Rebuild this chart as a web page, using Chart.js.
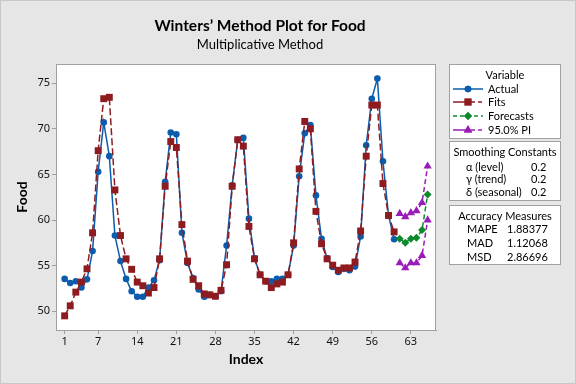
<!DOCTYPE html>
<html><head><meta charset="utf-8">
<script src="https://cdn.jsdelivr.net/npm/chart.js@4"></script>
<style>html,body{margin:0;padding:0;background:#E6E6E6;} canvas{display:block;}</style>
</head><body><canvas id="c" width="576" height="384"></canvas>
<script>
const indexTicks = [1, 7, 14, 21, 28, 35, 42, 49, 56, 63];
const foodTicks = [50, 55, 60, 65, 70, 75];
const actual = [53.55, 53.1, 53.3, 52.6, 53.5, 56.6, 65.3, 70.7, 67.0, 58.3,
  55.5, 53.55, 52.2, 51.6, 51.6, 52.6, 53.4, 55.6, 64.2, 69.6,
  69.4, 58.6, 55.3, 53.65, 52.4, 51.6, 51.8, 51.65, 52.2, 57.2,
  63.8, 68.8, 69.0, 60.15, 55.8, 54.0, 53.3, 53.3, 53.55, 53.55,
  54.0, 57.2, 64.8, 69.5, 70.4, 62.7, 57.95, 55.8, 54.85, 54.3,
  54.65, 54.5, 54.9, 58.2, 68.2, 73.3, 75.5, 66.45, 60.5, 57.9];
const fits = [49.5, 50.6, 52.1, 53.2, 54.65, 58.6, 67.6, 73.3, 73.45, 63.3,
  58.3, 55.75, 54.6, 53.2, 52.8, 52.0, 52.6, 55.75, 63.7, 68.6,
  67.95, 59.5, 55.5, 53.5, 52.8, 51.9, 51.8, 51.65, 52.3, 55.1,
  63.7, 68.8, 68.1, 59.3, 55.75, 54.0, 53.3, 52.6, 53.0, 53.2,
  54.0, 57.5, 65.6, 70.8, 70.0, 60.95, 57.4, 55.75, 55.05, 54.5,
  54.75, 54.75, 55.4, 58.8, 67.0, 72.6, 72.6, 64.0, 60.5, 58.7];
const forecastIndex = [61, 62, 63, 64, 65, 66];
const forecasts = [57.95, 57.5, 57.95, 58.05, 58.9, 62.8];
const upperPI = [60.7, 60.35, 60.8, 61.0, 61.9, 65.9];
const lowerPI = [55.3, 54.75, 55.3, 55.3, 56.1, 60.0];
const legendLabels = ['Actual', 'Fits', 'Forecasts', '95.0% PI'];
const smoothingNames = ['α (level)', 'γ (trend)', 'δ (seasonal)'];
const smoothingValues = ['0.2', '0.2', '0.2'];
const accuracyNames = ['MAPE', 'MAD', 'MSD'];
const accuracyValues = ['1.88377', '1.12068', '2.86696'];

const BLUE = '#0B5CAD', RED = '#8E1B1F', GREEN = '#0E8A2E', PURPLE = '#9A1CB8';
const FONT = 'Lato, "Noto Sans", sans-serif';
const TICKFONT = '"Noto Sans", "Open Sans", sans-serif';

const toXY = (xs, ys) => ys.map((v, i) => ({x: xs[i], y: v}));
const obsIndex = actual.map((_, i) => i + 1);

const styles = [
  {color: BLUE, dash: [], style: 'circle', r: 3.3},
  {color: RED, dash: [7, 3], style: 'rect', r: 4.9},
  {color: GREEN, dash: [5, 3], style: 'rectRot', r: 4},
  {color: PURPLE, dash: [5, 3], style: 'triangle', r: 4.8}
];

function ds(data, s, order) {
  return {data, borderColor: s.color, backgroundColor: s.color, borderWidth: 1.5,
    borderDash: s.dash, pointStyle: s.style, pointRadius: s.r, pointHoverRadius: s.r,
    pointBorderWidth: 0, showLine: true, tension: 0, order};
}

const decor = {
  id: 'decor',
  beforeDraw(chart) {
    const {ctx, chartArea: a} = chart;
    ctx.save();
    ctx.fillStyle = '#E6E6E6';
    ctx.fillRect(0, 0, 576, 384);
    ctx.strokeStyle = '#C8C8C8';
    ctx.lineWidth = 1;
    ctx.strokeRect(0.5, 0.5, 575, 383);
    ctx.fillStyle = '#FFFFFF';
    ctx.fillRect(a.left, a.top, a.right - a.left, a.bottom - a.top);
    ctx.restore();
  },
  afterDraw(chart) {
    const {ctx, chartArea: a} = chart;
    ctx.save();
    ctx.strokeStyle = '#A0A0A0';
    ctx.lineWidth = 1;
    ctx.setLineDash([]);
    ctx.strokeRect(Math.round(a.left) + 0.5, Math.round(a.top) + 0.5, Math.round(a.right - a.left) - 1, Math.round(a.bottom - a.top));
    // titles
    ctx.fillStyle = '#000';
    ctx.textAlign = 'center';
    ctx.textBaseline = 'middle';
    ctx.font = 'bold 15.5px ' + FONT;
    ctx.fillText('Winters’ Method Plot for Food', 260, 26);
    ctx.font = '13px ' + FONT;
    ctx.fillText('Multiplicative Method', 260, 45);
    ctx.font = 'bold 14px ' + FONT;
    ctx.fillText('Index', 246, 359);
    ctx.save();
    ctx.translate(22, 197);
    ctx.rotate(-Math.PI / 2);
    ctx.fillText('Food', 0, 0);
    ctx.restore();
    // boxes
    function box(x, y, w, h) {
      ctx.fillStyle = '#FFFFFF';
      ctx.fillRect(x, y, w, h);
      ctx.strokeStyle = '#A0A0A0';
      ctx.strokeRect(x + 0.5, y + 0.5, w - 1, h - 1);
    }
    box(449, 64, 112, 75);
    box(449, 141, 112, 60);
    box(449, 205, 112, 60);
    ctx.fillStyle = '#000';
    ctx.font = '11px ' + FONT;
    ctx.textAlign = 'center';
    ctx.fillText('Variable', 505, 75);
    ctx.fillText('Smoothing Constants', 505, 152);
    ctx.fillText('Accuracy Measures', 505, 216);
    const rows = [89, 102, 116, 130];
    legendLabels.forEach((lab, i) => {
      const s = styles[i], y = rows[i];
      ctx.strokeStyle = s.color;
      ctx.lineWidth = 1.5;
      if (i === 0) { ctx.setLineDash([]); ctx.beginPath(); ctx.moveTo(453, y); ctx.lineTo(483, y); ctx.stroke(); }
      else if (i === 2) { ctx.setLineDash([4, 3]); ctx.beginPath(); ctx.moveTo(453, y); ctx.lineTo(483, y); ctx.stroke(); }
      else {
        ctx.setLineDash([]); ctx.beginPath(); ctx.moveTo(453, y); ctx.lineTo(466, y); ctx.stroke();
        ctx.setLineDash([4, 3]); ctx.beginPath(); ctx.moveTo(471, y); ctx.lineTo(483, y); ctx.stroke();
      }
      ctx.setLineDash([]);
      ctx.fillStyle = s.color;
      Chart.helpers.drawPoint(ctx, {pointStyle: s.style, radius: s.r, rotation: 0, borderWidth: 0}, 468, y);
      ctx.fill();
      ctx.fillStyle = '#000';
      ctx.textAlign = 'left';
      ctx.fillText(lab, 488, y);
    });
    ctx.textAlign = 'left';
    smoothingNames.forEach((n, i) => {
      const y = 167 + i * 12.8;
      ctx.fillText(n, 466, y);
      ctx.fillText(smoothingValues[i], 531, y);
    });
    accuracyNames.forEach((n, i) => {
      const y = 229.5 + i * 13.8;
      ctx.fillText(n, 467, y);
      ctx.fillText(accuracyValues[i], 507, y);
    });
    ctx.restore();
  }
};

new Chart(document.getElementById('c'), {
  type: 'scatter',
  data: {
    datasets: [
      ds(toXY(obsIndex, actual), styles[0], 4),
      ds(toXY(obsIndex, fits), styles[1], 3),
      ds(toXY(forecastIndex, upperPI), styles[3], 2),
      ds(toXY(forecastIndex, lowerPI), styles[3], 2),
      ds(toXY(forecastIndex, forecasts), styles[2], 1)
    ]
  },
  options: {
    responsive: false,
    animation: false,
    devicePixelRatio: 1,
    layout: {padding: {left: 0, right: 140, top: 64, bottom: 0}},
    plugins: {legend: {display: false}, tooltip: {enabled: false}, title: {display: false}},
    scales: {
      x: {
        type: 'linear', min: -0.55, max: 67.5,
        afterBuildTicks: s => { s.ticks = indexTicks.map(v => ({value: v})); },
        afterFit: s => { s.height = 54; },
        grid: {display: true, drawOnChartArea: false, drawTicks: true, tickLength: 4, color: '#A0A0A0'},
        border: {display: true, color: '#A0A0A0'},
        ticks: {color: '#111', font: {family: TICKFONT, size: 11}, padding: 1, maxRotation: 0, autoSkip: false}
      },
      y: {
        type: 'linear', min: 47.95, max: 77.1,
        afterBuildTicks: s => { s.ticks = foodTicks.map(v => ({value: v})); },
        afterFit: s => { s.width = 56; },
        grid: {display: true, drawOnChartArea: false, drawTicks: true, tickLength: 4, color: '#A0A0A0'},
        border: {display: true, color: '#A0A0A0'},
        ticks: {color: '#111', font: {family: TICKFONT, size: 11}, padding: 2}
      }
    }
  },
  plugins: [decor]
});
</script></body></html>
